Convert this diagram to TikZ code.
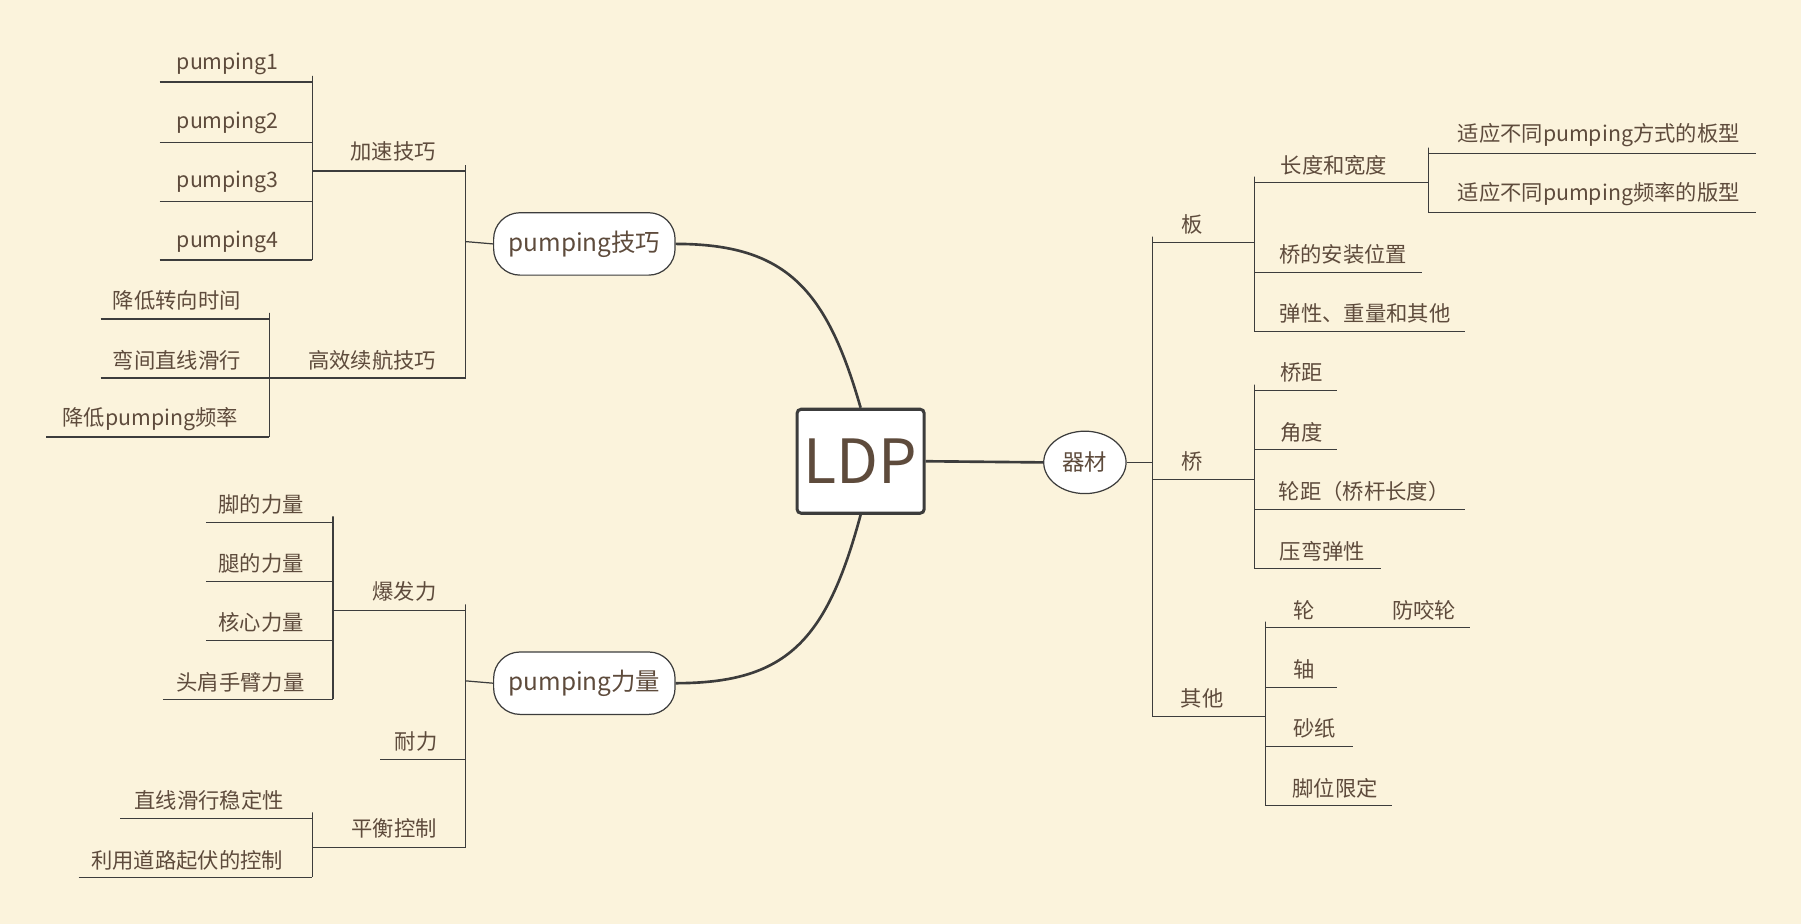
\documentclass[tikz,border=0pt]{standalone}
\usepackage{fontspec}
\setmainfont{Noto Sans CJK SC}
\usetikzlibrary{shapes.geometric}
\definecolor{bg}{HTML}{FBF3DC}
\definecolor{tx}{HTML}{5E4B3C}
\definecolor{ln}{HTML}{3C3C3C}
\tikzset{
  lbl/.style={text=tx,font=\fontsize{10.5}{12}\selectfont,inner sep=0pt},
  ul/.style={draw=ln,line width=0.6pt},
  br/.style={draw=ln,line width=0.6pt,rounded corners=3pt},
  pill/.style={draw=ln,fill=white,rounded corners=13pt,minimum width=3.14cm,minimum height=1.08cm,text=tx,font=\fontsize{12}{14}\selectfont,line width=0.6pt},
  mainc/.style={draw=ln,line width=1.3pt}
}
% \lf{name}{x1}{x2}{y}{tx}{ty}{text}
\newcommand{\lf}[7]{%
  \coordinate (#1L) at (#2,#4); \coordinate (#1R) at (#3,#4);
  \draw[ul] (#1L) -- (#1R);
  \node[lbl] (#1) at (#5,#6) {#7};}
\begin{document}
\begin{tikzpicture}[x=0.02cm,y=-0.02cm]
\fill[bg] (0,0) rectangle (1558,799);
\useasboundingbox (0,0) rectangle (1558,799);
% center
\node[draw=ln,line width=1.5pt,fill=white,rounded corners=2pt,minimum width=2.14cm,minimum height=1.8cm,text=tx,font=\fontsize{30}{36}\selectfont] (ldp) at (744.5,399) {LDP};
\node[pill] (tq) at (505.5,211) {pumping技巧};
\node[pill] (ll) at (505.5,591) {pumping力量};
\node[draw=ln,fill=white,ellipse,minimum width=1.38cm,minimum height=1.08cm,text=tx,font=\fontsize{11}{13}\selectfont,line width=0.6pt] (qc) at (938.5,400) {器材};
\draw[mainc] (ldp.north) .. controls (715,250) and (680,211) .. (tq.east);
\draw[mainc] (ldp.south) .. controls (715,555) and (680,591) .. (ll.east);
\draw[mainc] (ldp.east) -- (qc.west);
% top-left
\coordinate (tqj) at (403,209);
\draw[ul] (tq.west) -- (tqj);
\lf{js}{270}{403}{148}{340}{131}{加速技巧}
\lf{gx}{233}{403}{327}{322}{312}{高效续航技巧}
\draw[br] (tqj) |- (jsR); \draw[br] (tqj) |- (gxR);
\coordinate (jsj) at (270,148);
\lf{p1}{138}{270}{71}{197}{55}{pumping1}
\lf{p2}{138}{270}{123}{197}{106}{pumping2}
\lf{p3}{138}{270}{174}{197}{157}{pumping3}
\lf{p4}{138}{270}{225}{197}{209}{pumping4}
\foreach \n in {p1,p2,p3,p4}{\draw[br] (jsj) |- (\n R);}
\coordinate (gxj) at (233,327);
\lf{g1}{87}{233}{276}{153}{260}{降低转向时间}
\lf{g2}{87}{233}{327}{153}{312}{弯间直线滑行}
\lf{g3}{40}{233}{378}{130}{363}{降低pumping频率}
\foreach \n in {g1,g3}{\draw[br] (gxj) |- (\n R);}
% bottom-left
\coordinate (llj) at (403,589);
\draw[ul] (ll.west) -- (llj);
\lf{bf}{288}{403}{528}{350}{512}{爆发力}
\lf{nl}{329}{403}{657}{360}{641}{耐力}
\lf{ph}{270}{403}{733}{341}{717}{平衡控制}
\foreach \n in {bf,nl,ph}{\draw[br] (llj) |- (\n R);}
\coordinate (bfj) at (288,528);
\lf{b1}{178}{288}{452}{226}{436}{脚的力量}
\lf{b2}{178}{288}{503}{226}{487}{腿的力量}
\lf{b3}{178}{288}{554}{226}{538}{核心力量}
\lf{b4}{141}{288}{605}{208}{590}{头肩手臂力量}
\foreach \n in {b1,b2,b3,b4}{\draw[br] (bfj) |- (\n R);}
\coordinate (phj) at (270,733);
\lf{h1}{104}{270}{708}{181}{692}{直线滑行稳定性}
\lf{h2}{68}{270}{759}{162}{744}{利用道路起伏的控制}
\foreach \n in {h1,h2}{\draw[br] (phj) |- (\n R);}
% right
\coordinate (qcj) at (997,400);
\draw[ul] (qc.east) -- (qcj);
\lf{ban}{997}{1085}{210}{1031}{194}{板}
\lf{qiao}{997}{1085}{415}{1031}{399}{桥}
\lf{qt}{997}{1095}{620}{1040}{604}{其他}
\foreach \n in {ban,qiao,qt}{\draw[br] (qcj) |- (\n L);}
\coordinate (banj) at (1085,210);
\lf{r1}{1085}{1236}{158}{1154}{143}{长度和宽度}
\lf{r2}{1085}{1230}{236}{1162}{220}{桥的安装位置}
\lf{r3}{1085}{1267}{287}{1181}{271}{弹性、重量和其他}
\foreach \n in {r1,r2,r3}{\draw[br] (banj) |- (\n L);}
\coordinate (r1j) at (1236,158);
\lf{s1}{1236}{1519}{133}{1383}{117}{适应不同pumping方式的板型}
\lf{s2}{1236}{1519}{184}{1383}{168}{适应不同pumping频率的版型}
\foreach \n in {s1,s2}{\draw[br] (r1j) |- (\n L);}
\coordinate (qiaoj) at (1085,415);
\lf{q1}{1085}{1157}{338}{1126}{322}{桥距}
\lf{q2}{1085}{1157}{389}{1126}{374}{角度}
\lf{q3}{1085}{1267}{441}{1180}{425}{轮距（桥杆长度）}
\lf{q4}{1085}{1195}{492}{1144}{477}{压弯弹性}
\foreach \n in {q1,q2,q3,q4}{\draw[br] (qiaoj) |- (\n L);}
\coordinate (qtj) at (1095,620);
\lf{t1}{1095}{1157}{543}{1128}{528}{轮}
\lf{t5}{1157}{1272}{543}{1232}{528}{防咬轮}
\lf{t2}{1095}{1157}{595}{1128}{579}{轴}
\lf{t3}{1095}{1170}{646}{1137}{630}{砂纸}
\lf{t4}{1095}{1204}{697}{1155}{682}{脚位限定}
\foreach \n in {t1,t2,t3,t4}{\draw[br] (qtj) |- (\n L);}
\end{tikzpicture}
\end{document}
